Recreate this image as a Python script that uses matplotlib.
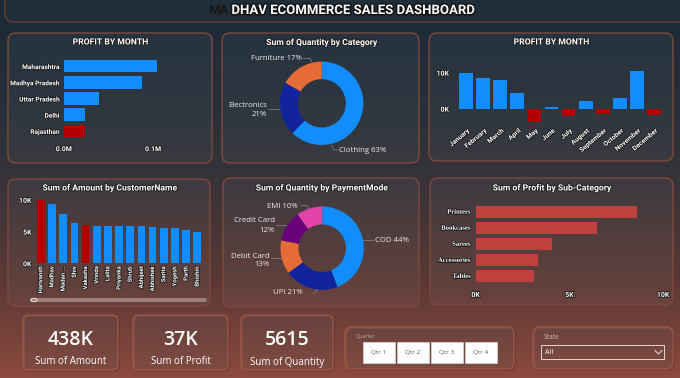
import numpy as np
import matplotlib.pyplot as plt
import matplotlib.patheffects as pe
from matplotlib.patches import FancyBboxPatch, Rectangle
from matplotlib.colors import LinearSegmentedColormap
from matplotlib import font_manager

W, H = 680, 378

# data
states = ["Maharashtra", "Madhya Pradesh", "Uttar Pradesh", "Delhi", "Rajasthan"]
state_amount = [0.104, 0.088, 0.039, 0.024, 0.023]  # M

categories = ["Clothing", "Electronics", "Furniture"]
category_share = [63, 21, 17]

months = ["January", "February", "March", "April", "May", "June", "July",
          "August", "September", "October", "November", "December"]
month_profit = [9.8, 8.6, 8.0, 4.3, -3.7, 0.4, -2.1, 2.1, -1.5, 3.1, 10.5, -1.7]  # K

customers = ["Harivansh", "Madhav", "Madan ...", "Shiv", "Vakasha", "Vrinda", "Lalita",
             "Priyanka", "Shruti", "Abhijeet", "Abhishek", "Sarita", "Yogesh", "Parth", "Bhishm"]
customer_amount = [10.0, 9.4, 7.8, 6.4, 6.1, 5.9, 5.9, 5.85, 5.85, 5.8, 5.7, 5.6, 5.5, 5.2, 4.95]  # K
customer_flag = [1, 0, 0, 0, 1, 0, 0, 0, 0, 0, 0, 0, 0, 0, 0]

pay_modes = ["COD", "UPI", "Debit Card", "Credit Card", "EMI"]
pay_share = [44, 21, 13, 12, 10]

sub_cats = ["Printers", "Bookcases", "Sarees", "Accessories", "Tables"]
sub_profit = [8.58, 6.49, 4.05, 3.34, 3.13]  # K

kpi_values = ["438K", "37K", "5615"]
kpi_labels = ["Sum of Amount", "Sum of Profit", "Sum of Quantity"]
quarters = ["Qtr 1", "Qtr 2", "Qtr 3", "Qtr 4"]

BLUE = "#118DFF"
RED = "#B30000"
PBI = ["#118DFF", "#12239E", "#E66C37", "#6B007B", "#E044A7"]

names = {f.name for f in font_manager.fontManager.ttflist}
COND = "Liberation Sans Narrow" if "Liberation Sans Narrow" in names else "Roboto"
UI = "Open Sans"
outline = [pe.withStroke(linewidth=1.2, foreground="#1a1a1a")]

fig = plt.figure(figsize=(6.8, 3.78), dpi=100)


def px_axes(x0, y0, x1, y1):
    return fig.add_axes([x0 / W, 1 - y1 / H, (x1 - x0) / W, (y1 - y0) / H])


# background gradient + panels drawn in pixel space
bg = px_axes(0, 0, W, H)
bg.set_xlim(0, W)
bg.set_ylim(H, 0)
bg.axis("off")
cmap = LinearSegmentedColormap.from_list(
    "bg", [(0, "#1b2a36"), (0.3, "#28303a"), (0.5, "#3a3439"), (0.75, "#5c3935"), (1, "#8c4a3f")])
grad = np.linspace(0, 1, 256).reshape(-1, 1)
bg.imshow(grad, cmap=cmap, extent=[0, W, H, 0], aspect="auto", zorder=0)


def panel(x0, y0, x1, y1, r=8, fc="white", alpha=0.035, ec="#7d4a3d", lw=1.0):
    bg.add_patch(FancyBboxPatch((x0, y0), x1 - x0, y1 - y0,
                                boxstyle=f"round,pad=0,rounding_size={r}",
                                fc=fc, alpha=alpha, ec="none", zorder=1))
    bg.add_patch(FancyBboxPatch((x0, y0), x1 - x0, y1 - y0,
                                boxstyle=f"round,pad=0,rounding_size={r}",
                                fc="none", ec=ec, lw=lw, zorder=2))


def title(x, y, s, size=6.2):
    bg.text(x, y, s, ha="center", va="center", color="white", fontsize=size,
            fontweight="bold", family=COND, path_effects=outline, zorder=5)


# title bar
panel(5, -12, 700, 22, r=9, alpha=0.02, ec="#6d3b30")
bg.text(229, 11, "MA", ha="right", va="center", color="#161616", fontsize=9.5,
        fontweight="bold", family=COND, zorder=3)
bg.text(354, 10.5, "DHAV ECOMMERCE SALES DASHBOARD", ha="center", va="center",
        color="white", fontsize=9.5, fontweight="bold", family=COND,
        path_effects=[pe.withStroke(linewidth=2, foreground="#111")], zorder=5)

panel(8, 33, 212, 163)
panel(222, 33, 419, 163)
panel(429, 33, 673, 161)
panel(8, 179, 210, 306)
panel(223, 178, 419, 307)
panel(430, 178, 673, 305)

title(110, 42, "PROFIT BY MONTH")
title(322, 42.5, "Sum of Quantity by Category")
title(551, 42, "PROFIT BY MONTH")
title(110, 188, "Sum of Amount by CustomerName")
title(322, 188, "Sum of Quantity by PaymentMode")
title(552, 188, "Sum of Profit by Sub-Category")


def style(ax):
    ax.set_facecolor("none")
    for s in ax.spines.values():
        s.set_visible(False)
    ax.tick_params(length=0, colors="white")
    for lab in ax.get_xticklabels() + ax.get_yticklabels():
        lab.set_fontfamily(COND)
        lab.set_fontweight("bold")
        lab.set_path_effects(outline)


# panel 1: amount by state
ax1 = px_axes(64, 58, 171, 139)
y = np.arange(len(states))
ax1.barh(y, state_amount, height=0.78,
         color=[RED if v == min(state_amount) else BLUE for v in state_amount])
ax1.set_ylim(len(states) - 0.5, -0.5)
ax1.set_xlim(0, 0.12)
ax1.set_yticks(y, states, fontsize=4.7)
ax1.set_xticks([0, 0.1], ["0.0M", "0.1M"], fontsize=5)
ax1.tick_params(axis="y", pad=3.3)
ax1.tick_params(axis="x", pad=4.5)
style(ax1)

# panel 2: category donut
ax2 = px_axes(271.7, 53.3, 371.7, 153.3)
ax2.pie(category_share, colors=PBI[:3], startangle=90, counterclock=False,
        wedgeprops=dict(width=0.42, edgecolor="none"))
ax2.set_xlim(-1.2, 1.2)
ax2.set_ylim(-1.2, 1.2)
ax2.set_aspect("equal")
lab_kw = dict(color="#ececec", fontsize=5.6, family=UI, zorder=5)
bg.text(276, 59, f"{categories[2]} {category_share[2]}%", ha="center", va="center", **lab_kw)
bg.plot([303, 310, 312], [58.5, 58.5, 62], color="#8a8a8a", lw=0.5, zorder=4)
bg.text(267, 110, f"{categories[1]}\n{category_share[1]}%", ha="right", va="center",
        multialignment="right", linespacing=1.4, **lab_kw)
bg.plot([268, 280], [109, 109], color="#8a8a8a", lw=0.5, zorder=4)
bg.text(339, 150, f"{categories[0]} {category_share[0]}%", ha="left", va="center", **lab_kw)
bg.plot([331, 334, 338], [145, 150, 150], color="#8a8a8a", lw=0.5, zorder=4)

# panel 3: profit by month
ax3 = px_axes(457.5, 66, 662.6, 124)
x = np.arange(len(months))
ax3.bar(x, month_profit, width=0.8, color=[BLUE if v >= 0 else RED for v in month_profit])
ax3.set_xlim(-0.5, len(months) - 0.5)
ax3.set_ylim(-4.25, 11.86)
ax3.set_yticks([0, 10], ["0K", "10K"], fontsize=5)
ax3.set_xticks(x, months, fontsize=4.8, rotation=40, ha="right", rotation_mode="anchor")
ax3.tick_params(axis="y", pad=6)
ax3.tick_params(axis="x", pad=2)
style(ax3)

# panel 4: amount by customer
ax4 = px_axes(33, 196, 204, 263.3)
x = np.arange(len(customers))
ax4.bar(x, customer_amount, width=0.68, color=[RED if f else BLUE for f in customer_flag])
ax4.set_xlim(-0.7, len(customers) - 0.4)
ax4.set_ylim(0, 10.6)
ax4.set_yticks([0, 5, 10], ["0K", "5K", "10K"], fontsize=5)
ax4.set_xticks(x, customers, fontsize=4.3, rotation=90)
ax4.tick_params(axis="y", pad=1)
ax4.tick_params(axis="x", pad=2)
style(ax4)
bg.add_patch(FancyBboxPatch((30, 298), 177, 4, boxstyle="round,pad=0,rounding_size=2",
                            fc="#a8928e", ec="none", alpha=0.8, zorder=3))
bg.add_patch(FancyBboxPatch((31, 298.5), 6, 3, boxstyle="round,pad=0,rounding_size=1.5",
                            fc="none", ec="#f0f0f0", lw=0.6, zorder=4))

# panel 5: payment mode donut
ax5 = px_axes(272.2, 198.2, 372.2, 298.2)
ax5.pie(pay_share, colors=PBI, startangle=90, counterclock=False,
        wedgeprops=dict(width=0.43, edgecolor="none"))
ax5.set_xlim(-1.2, 1.2)
ax5.set_ylim(-1.2, 1.2)
ax5.set_aspect("equal")
bg.text(375, 240, f"{pay_modes[0]} {pay_share[0]}%", ha="left", va="center", **lab_kw)
bg.plot([363, 373], [240, 240], color="#8a8a8a", lw=0.5, zorder=4)
bg.text(273, 293, f"{pay_modes[1]} {pay_share[1]}%", ha="left", va="center", **lab_kw)
bg.plot([313, 315, 318], [293, 293, 288], color="#8a8a8a", lw=0.5, zorder=4)
bg.text(270, 260.5, f"{pay_modes[2]}\n{pay_share[2]}%", ha="right", va="center",
        multialignment="right", linespacing=1.4, **lab_kw)
bg.plot([271, 281], [258, 258], color="#8a8a8a", lw=0.5, zorder=4)
bg.text(275, 225.5, f"{pay_modes[3]}\n{pay_share[3]}%", ha="right", va="center",
        multialignment="right", linespacing=1.4, **lab_kw)
bg.plot([276, 286], [225, 225], color="#8a8a8a", lw=0.5, zorder=4)
bg.text(267, 206, f"{pay_modes[4]} {pay_share[4]}%", ha="left", va="center", **lab_kw)
bg.plot([301, 307, 309], [205.5, 205.5, 209], color="#8a8a8a", lw=0.5, zorder=4)

# panel 6: profit by sub-category
ax6 = px_axes(475.7, 203.6, 667, 284)
y = np.arange(len(sub_cats))
ax6.barh(y, sub_profit, height=0.75, color="#c0403e")
ax6.set_ylim(len(sub_cats) - 0.5, -0.5)
ax6.set_xlim(0, 10.2)
ax6.set_xticks([0, 5, 10], ["0K", "5K", "10K"], fontsize=5)
ax6.set_yticks(y, sub_cats, fontsize=4.8)
ax6.tick_params(axis="y", pad=3.6)
ax6.tick_params(axis="x", pad=5)
style(ax6)
for lab in ax6.get_yticklabels():
    lab.set_fontfamily("Liberation Serif")

# KPI cards
for (x0, x1), val, lab in zip([(23, 118), (133, 228), (241, 333)], kpi_values, kpi_labels):
    bg.add_patch(FancyBboxPatch((x0 + 2, 317), x1 - x0, 55, boxstyle="round,pad=0,rounding_size=6",
                                fc="black", alpha=0.12, ec="none", zorder=1))
    panel(x0, 315, x1, 370, r=6, alpha=0.06, ec="#9c5647")
    cx = (x0 + x1) / 2
    bg.text(cx, 340, val, ha="center", va="center", color="white", fontsize=14,
            fontweight="semibold", family=UI, zorder=5)
    bg.text(cx, 362, lab, ha="center", va="center", color="white", fontsize=7,
            family=UI, zorder=5)

# Quarter slicer
bg.add_patch(FancyBboxPatch((347, 329), 169, 42, boxstyle="round,pad=0,rounding_size=7",
                            fc="black", alpha=0.12, ec="none", zorder=1))
panel(345, 327, 514, 369, r=7, alpha=0.06, ec="#9c5647")
bg.text(356, 336.5, "Quarter", ha="left", va="center", color="#c9aaa2", fontsize=3.8,
        family=UI, zorder=5)
for i, q in enumerate(quarters):
    qx = 362.7 + i * 34
    bg.add_patch(Rectangle((qx, 341.7), 32.5, 21.6, fc="white", ec="#d8d8d8", lw=0.5, zorder=4))
    bg.text(qx + 16.2, 352.5, q, ha="center", va="center", color="#606060", fontsize=4.6,
            family=UI, zorder=5)

# State slicer
bg.add_patch(FancyBboxPatch((535, 329), 140, 42, boxstyle="round,pad=0,rounding_size=7",
                            fc="black", alpha=0.12, ec="none", zorder=1))
panel(533, 327, 673, 369, r=7, alpha=0.06, ec="#9c5647")
bg.text(544, 337.5, "State", ha="left", va="center", color="#d2b8b0", fontsize=4.8,
        family=UI, zorder=5)
bg.add_patch(Rectangle((541, 345), 123, 14.3, fc="none", ec="#e4d4d0", lw=0.7, zorder=4))
bg.text(545, 352.5, "All", ha="left", va="center", color="white", fontsize=5.2,
        family=UI, zorder=5)
bg.plot([655, 658.5, 662], [350.5, 354, 350.5], color="#e8e8e8", lw=0.7, zorder=5)

fig.savefig("out.png", dpi=100)
